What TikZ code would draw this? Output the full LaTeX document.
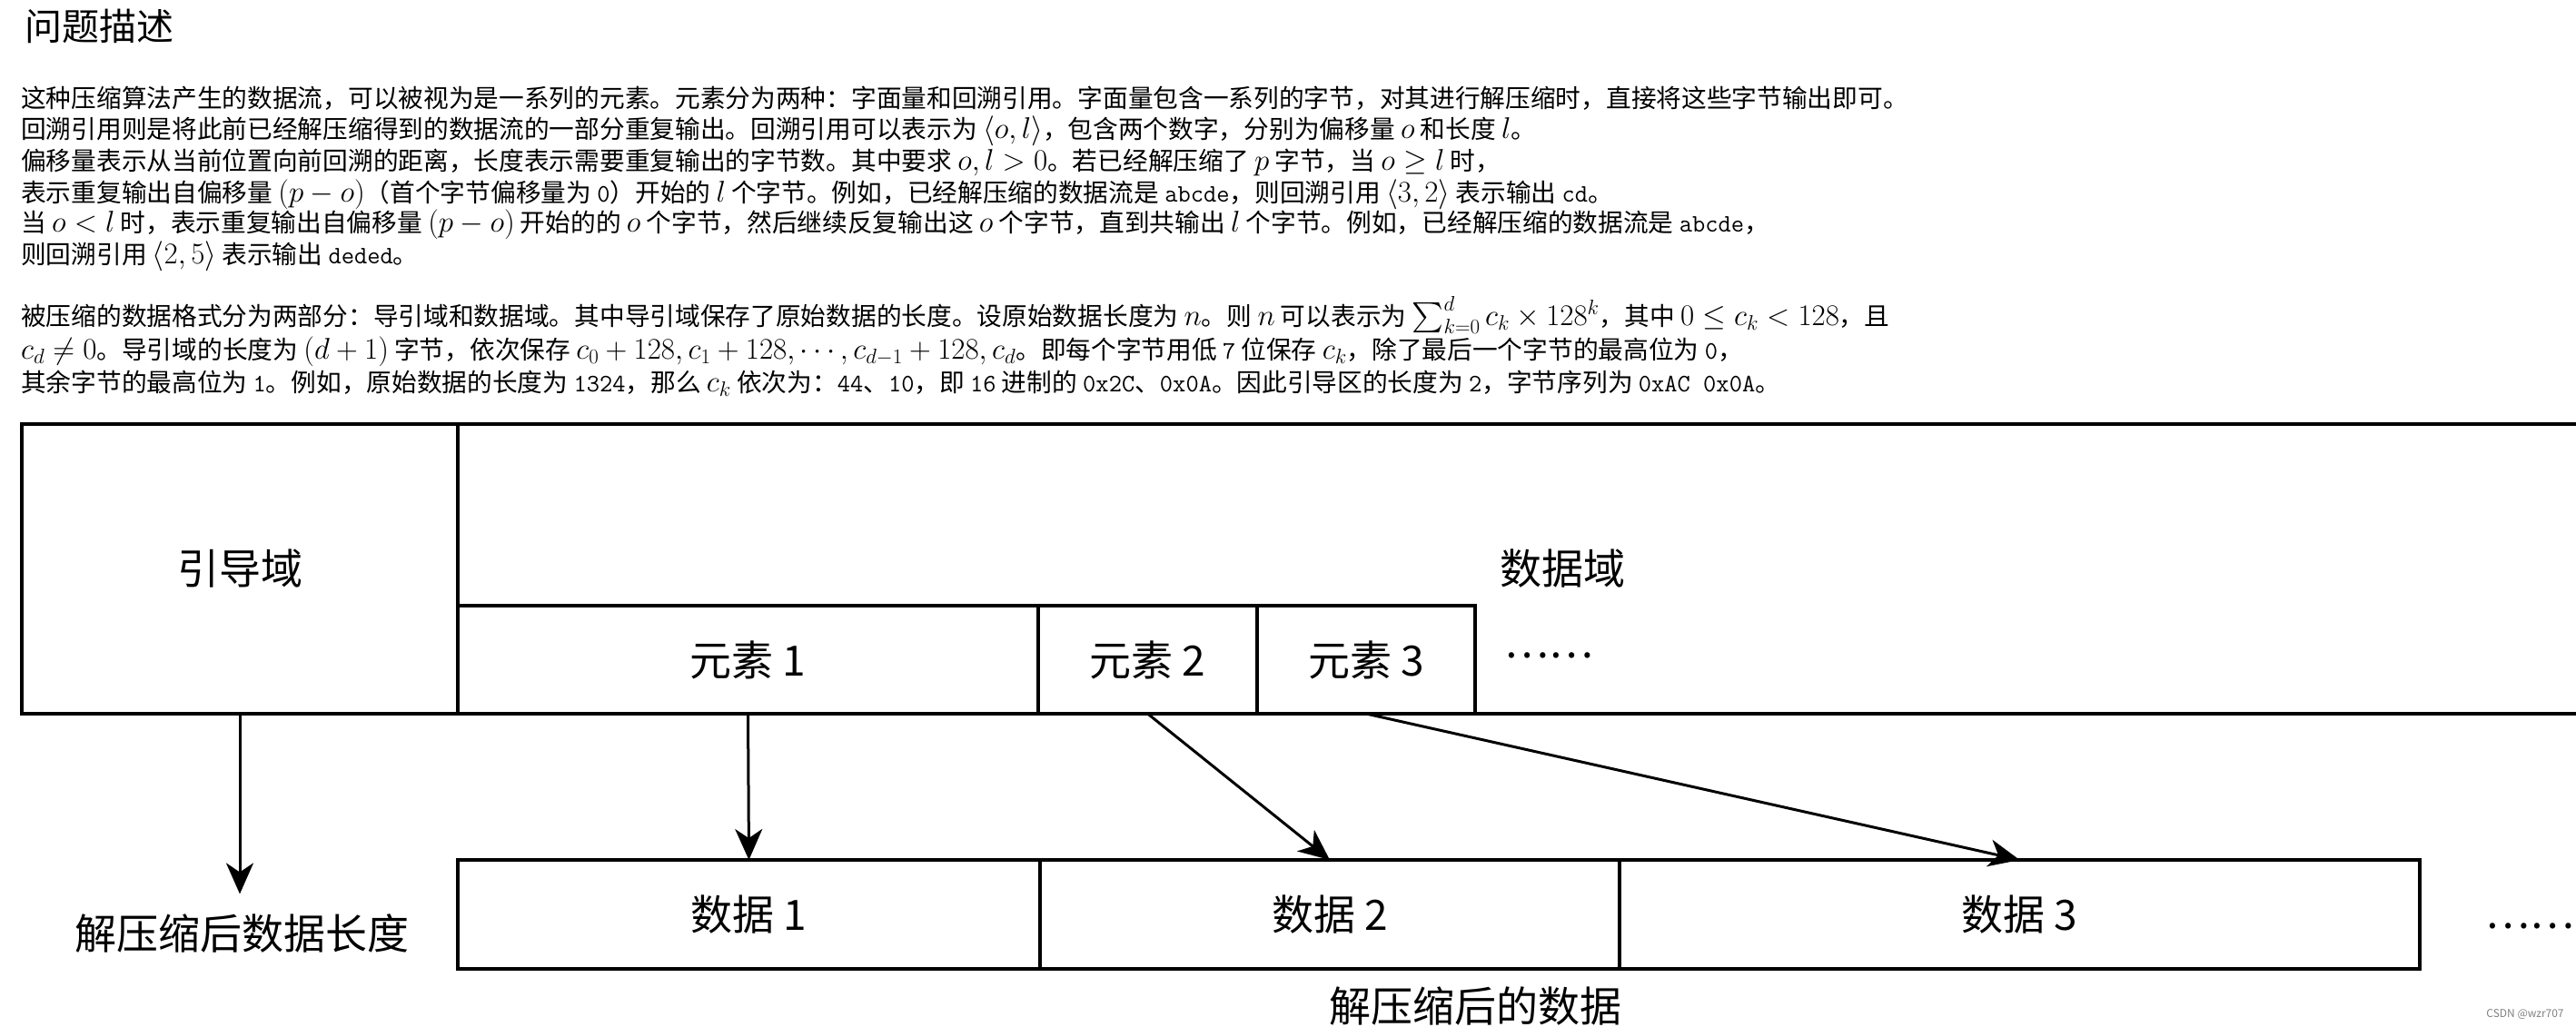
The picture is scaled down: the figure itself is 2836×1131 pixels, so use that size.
\RequirePackage{fix-cm}
\documentclass[tikz,border=0pt]{standalone}
\usepackage{fontspec}
\usetikzlibrary{arrows.meta,positioning}
\IfFontExistsTF{FandolSong-Regular.otf}
    {\newfontfamily\songti{FandolSong-Regular.otf}}
    {\newfontfamily\songti{Noto Sans CJK SC}}
\newfontfamily\heiti{Noto Sans CJK SC}
\newcommand\tx[1]{{\ttfamily #1}}

% scalable large symbols, and formulas a little larger than the text
\DeclareFontFamily{OMX}{cmex}{}
\DeclareFontShape{OMX}{cmex}{m}{n}{<-> cmex10}{}
\DeclareMathSizes{27.7}{33}{23}{16.5}

\def\bodysize{\fontsize{27.7}{33}\selectfont}
\def\boxsize{\fontsize{46}{52}\selectfont}

\begin{document}
\begin{tikzpicture}[x=1pt,y=-1pt,>={Stealth[length=34pt,width=30pt,inset=10pt]}]
    \tikzstyle{para}=[anchor=base west,inner sep=0pt,font=\songti\bodysize]
    \tikzstyle{field}=[draw,line width=4pt,inner sep=0pt,outer sep=0pt,font=\heiti\boxsize]
    \tikzstyle{boxtext}=[inner sep=0pt,font=\heiti\boxsize]
    \tikzstyle{link}=[line width=3pt,->]

    \useasboundingbox (0,0) rectangle (2836,1131);
    \clip (0,0) rectangle (2836,1131);

    % Problem text
    \node[para,font=\songti\fontsize{41}{48}\selectfont] (title) at (27,44.5) {问题描述};
    \node[para] (t1) at (23,118.5) {这种压缩算法产生的数据流，可以被视为是一系列的元素。元素分为两种：字面量和回溯引用。字面量包含一系列的字节，对其进行解压缩时，直接将这些字节输出即可。};
    \node[para] (t2) at (23,153) {回溯引用则是将此前已经解压缩得到的数据流的一部分重复输出。回溯引用可以表示为 $\langle o,l\rangle$，包含两个数字，分别为偏移量 $o$ 和长度 $l$。};
    \node[para] (t3) at (23,187.5) {偏移量表示从当前位置向前回溯的距离，长度表示需要重复输出的字节数。其中要求 $o,l>0$。若已经解压缩了 $p$ 字节，当 $o\geq l$ 时，};
    \node[para] (t4) at (23,222.5) {表示重复输出自偏移量 $(p-o)$（首个字节偏移量为 \tx{0}）开始的 $l$ 个字节。例如，已经解压缩的数据流是 \tx{abcde}，则回溯引用 $\langle 3,2\rangle$ 表示输出 \tx{cd}。};
    \node[para] (t5) at (23,255.5) {当 $o<l$ 时，表示重复输出自偏移量 $(p-o)$ 开始的的 $o$ 个字节，然后继续反复输出这 $o$ 个字节，直到共输出 $l$ 个字节。例如，已经解压缩的数据流是 \tx{abcde}，};
    \node[para] (t6) at (23,290.5) {则回溯引用 $\langle 2,5\rangle$ 表示输出 \tx{deded}。};
    \node[para] (t7) at (23,358.5) {被压缩的数据格式分为两部分：导引域和数据域。其中导引域保存了原始数据的长度。设原始数据长度为 $n$。则 $n$ 可以表示为 $\sum_{k=0}^{d}c_k\times 128^k$，其中 $0\leq c_k<128$，且};
    \node[para] (t8) at (23,395.5) {$c_d\neq 0$。导引域的长度为 $(d+1)$ 字节，依次保存 $c_0+128,c_1+128,\cdots,c_{d-1}+128,c_d$。即每个字节用低 \tx{7} 位保存 $c_k$，除了最后一个字节的最高位为 \tx{0}，};
    \node[para] (t9) at (23,431.5) {其余字节的最高位为 \tx{1}。例如，原始数据的长度为 \tx{1324}，那么 $c_k$ 依次为：\tx{44}、\tx{10}，即 \tx{16} 进制的 \tx{0x2C}、\tx{0x0A}。因此引导区的长度为 \tx{2}，字节序列为 \tx{0xAC 0x0A}。};

    % Compressed format
    \node[field,minimum width=480,minimum height=319] (lead) at (264,626.5) {引导域};
    \node[field,minimum width=2432,minimum height=319] (body) at (1720,626.5) {数据域};
    \node[field,minimum width=639,minimum height=119] (e1) at (823.5,726.5) {元素 1};
    \node[field,minimum width=241,minimum height=119,right=0pt of e1] (e2) {元素 2};
    \node[field,minimum width=240,minimum height=119,right=0pt of e2] (e3) {元素 3};
    \node[boxtext] (emore) at (1705,722) {……};

    % Decompressed data
    \node[field,minimum width=641,minimum height=120] (d1) at (824.5,1007) {数据 1};
    \node[field,minimum width=638,minimum height=120,right=0pt of d1] (d2) {数据 2};
    \node[field,minimum width=881,minimum height=120,right=0pt of d2] (d3) {数据 3};
    \node[boxtext] (dmore) at (2785,1020) {……};

    \node[boxtext] (lenlabel) at (266,1028) {解压缩后数据长度};
    \node[boxtext] (outlabel) at (1624,1108) {解压缩后的数据};
    \node[inner sep=0pt,font=\heiti\fontsize{12}{14}\selectfont,text=gray] (mark) at (2780,1117) {CSDN @wzr707};

    % Connect the fields with their outputs
    \draw[link,shorten >=22pt] (lead.south) -- (lead.south |- lenlabel.north);
    \foreach \source/\dest in {e1/d1,e2/d2,e3/d3}
        \draw[link] (\source.south) -- (\dest.north);
\end{tikzpicture}
\end{document}
